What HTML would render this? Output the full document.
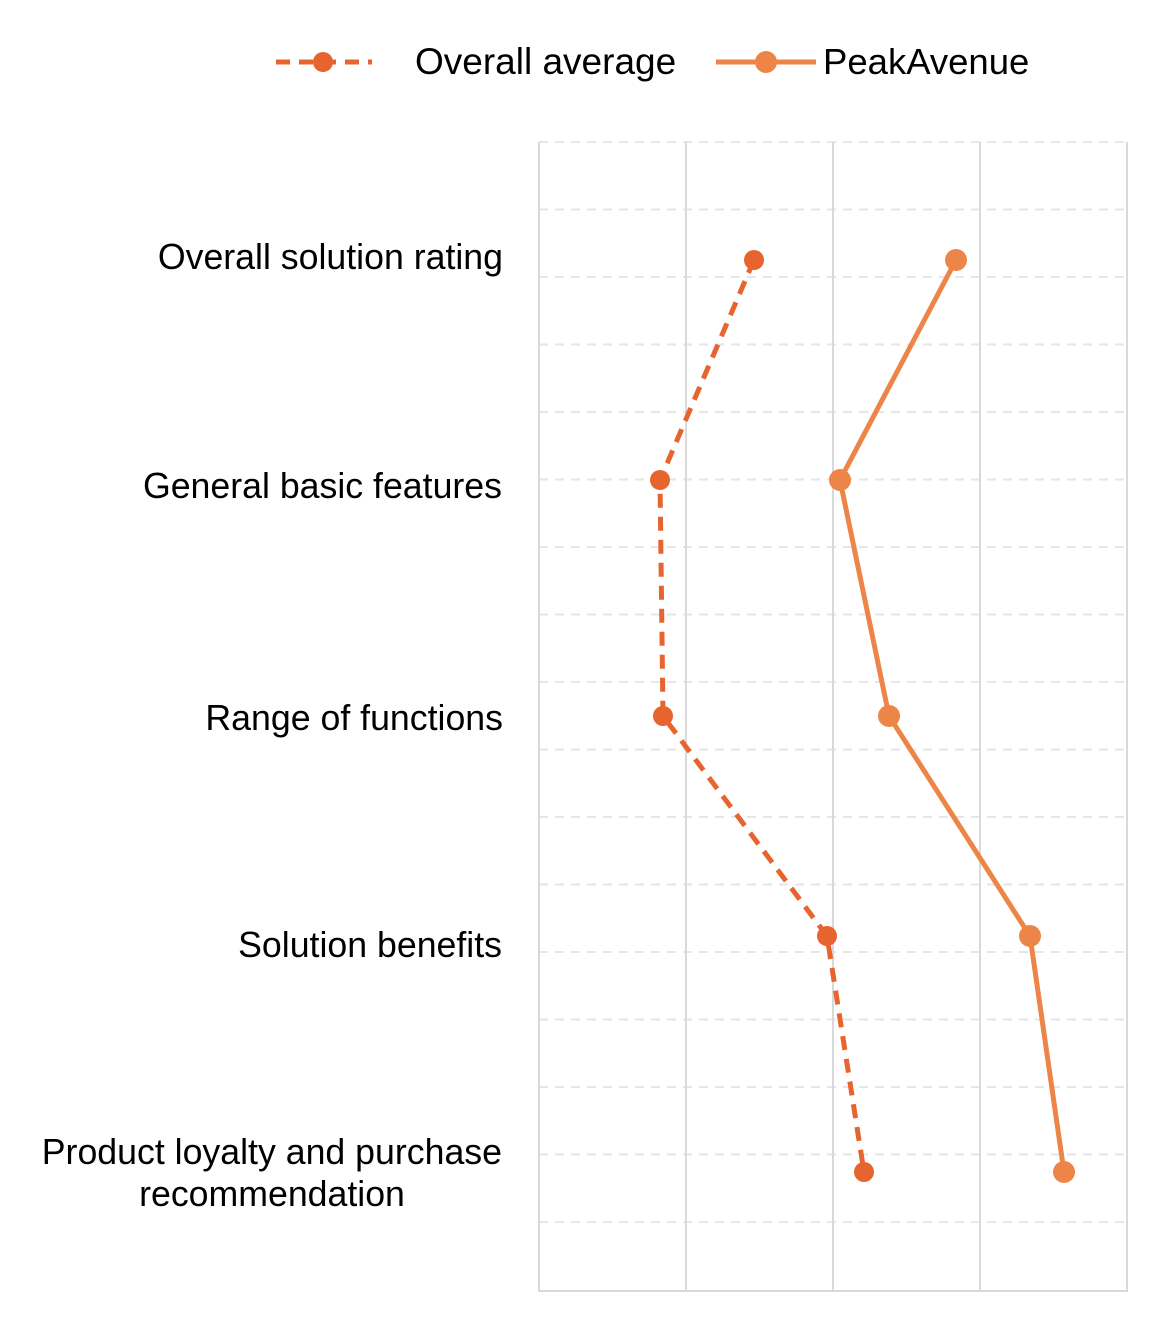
<!DOCTYPE html>
<html><head><meta charset="utf-8"><style>body{margin:0;background:#fff}svg{display:block}text{font-family:"Liberation Sans",sans-serif;fill:#000}</style></head>
<body>
<svg width="1170" height="1328" viewBox="0 0 1170 1328">
<g stroke="#e6e6e6" stroke-width="2" stroke-dasharray="9,7">
<line x1="539" y1="142" x2="1127" y2="142"/><line x1="539" y1="209.5" x2="1127" y2="209.5"/><line x1="539" y1="277" x2="1127" y2="277"/><line x1="539" y1="344.5" x2="1127" y2="344.5"/><line x1="539" y1="412" x2="1127" y2="412"/><line x1="539" y1="479.5" x2="1127" y2="479.5"/><line x1="539" y1="547" x2="1127" y2="547"/><line x1="539" y1="614.5" x2="1127" y2="614.5"/><line x1="539" y1="682" x2="1127" y2="682"/><line x1="539" y1="749.5" x2="1127" y2="749.5"/><line x1="539" y1="817" x2="1127" y2="817"/><line x1="539" y1="884.5" x2="1127" y2="884.5"/><line x1="539" y1="952" x2="1127" y2="952"/><line x1="539" y1="1019.5" x2="1127" y2="1019.5"/><line x1="539" y1="1087" x2="1127" y2="1087"/><line x1="539" y1="1154.5" x2="1127" y2="1154.5"/><line x1="539" y1="1222" x2="1127" y2="1222"/>
</g>
<g stroke="#d9d9d9" stroke-width="2">
<line x1="539" y1="142" x2="539" y2="1291"/><line x1="686" y1="142" x2="686" y2="1291"/><line x1="833" y1="142" x2="833" y2="1291"/><line x1="980" y1="142" x2="980" y2="1291"/><line x1="1127" y1="142" x2="1127" y2="1291"/>
<line x1="538" y1="1291" x2="1128" y2="1291"/>
</g>
<polyline points="754,260 660,480 663,716 827,936 864,1172" fill="none" stroke="#E8642E" stroke-width="5" stroke-dasharray="14,9"/>
<polyline points="956,260 840,480 889,716 1030,936 1064,1172" fill="none" stroke="#EE8548" stroke-width="5"/>
<g fill="#E8642E"><circle cx="754" cy="260" r="10"/><circle cx="660" cy="480" r="10"/><circle cx="663" cy="716" r="10"/><circle cx="827" cy="936" r="10"/><circle cx="864" cy="1172" r="10"/></g>
<g fill="#EE8548"><circle cx="956" cy="260" r="11"/><circle cx="840" cy="480" r="11"/><circle cx="889" cy="716" r="11"/><circle cx="1030" cy="936" r="11"/><circle cx="1064" cy="1172" r="11"/></g>
<line x1="276" y1="62" x2="372" y2="62" stroke="#E8642E" stroke-width="5" stroke-dasharray="14,9"/>
<circle cx="323" cy="62" r="10" fill="#E8642E"/>
<text x="415" y="74" font-size="37">Overall average</text>
<line x1="716" y1="62" x2="816" y2="62" stroke="#EE8548" stroke-width="5"/>
<circle cx="766" cy="62" r="11" fill="#EE8548"/>
<text x="823" y="74" font-size="36.5">PeakAvenue</text>
<g font-size="35.7" text-anchor="end">
<text x="503" y="269">Overall solution rating</text>
<text x="502" y="498">General basic features</text>
<text x="503" y="730">Range of functions</text>
<text x="502" y="957">Solution benefits</text>
<text x="502" y="1164">Product loyalty and purchase</text>
</g>
<text x="272" y="1206" font-size="35.7" text-anchor="middle">recommendation</text>
</svg>
</body></html>
